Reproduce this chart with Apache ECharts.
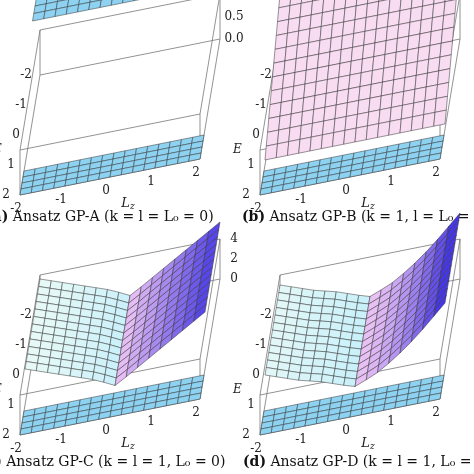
<!DOCTYPE html><html><head><meta charset="utf-8">
<script src="https://cdn.jsdelivr.net/npm/echarts@6/dist/echarts.min.js"></script>
<style>html,body{margin:0;background:#fff}#c{width:474px;height:474px}</style></head><body><div id="c"></div>
<script>
const lzNodes=[-2,-1.75,-1.5,-1.25,-1,-0.75,-0.5,-0.25,0,0.25,0.5,0.75,1,1.25,1.5,1.75,2];
const eNodes=[-2,-1.75,-1.5,-1.25,-1,-0.75,-0.5,-0.25,0,0.25,0.5,0.75,1,1.25,1.5,1.75,2];
const floorE=[1.2,1.4,1.6,1.8,2];
const profA=[1,1,1,1,1,1,1,1,1,1,1,1,1,1,1,1,1];
const profB=[0.9,0.9,0.9,0.9,0.9,0.9,0.9,0.9,0.9,0.9,0.9,0.9,0.9,0.9,0.9,0.9,0.9];
const profC=[3.6,3.2,2.8,2.4,2.0,1.6,1.2,0.7,0.15,0.8,1.5,2.2,2.9,3.6,4.3,5.0,5.7];
const profD=[3.0,2.6,2.2,1.8,1.5,1.2,0.8,0.4,0.05,0.5,1.0,1.7,2.5,3.4,4.4,5.5,6.6];
const zMax=[1,1,4,4];
const zTicks=[["0.0","0.5","1.0"],[],["0","2","4"],[]];
const axisTicks=["-2","-1","0","1","2"];
const capLabels=["(a)","(b)","(c)","(d)"];
const capTexts=[" Ansatz GP-A (k = l = L₀ = 0)"," Ansatz GP-B (k = 1, l = L₀ = 0)"," Ansatz GP-C (k = l = 1, L₀ = 0)"," Ansatz GP-D (k = l = 1, L₀ = 0)"];
const centers=[[120,117],[360,117],[120,357],[360,357]];
const H=[45,45,40,40];
const profs=[profA,profB,profC,profD];
const style=['blue','pink','grad','grad'];

function proj(p,lz,e,z){const [cx,cy]=centers[p];return [cx+45*lz-5*e, cy+30*e-9*lz-H[p]*z/zMax[p]];}
const items=[];
for(let p=0;p<4;p++){
  const bx=[[-2,-2],[2,-2],[2,2],[-2,2]];
  for(let i=0;i<4;i++){const a=bx[i],b=bx[(i+1)%4];
    items.push({k:'line',p,a:[a[0],a[1],0],b:[b[0],b[1],0]});
    items.push({k:'line',p,a:[a[0],a[1],zMax[p]],b:[b[0],b[1],zMax[p]]});
    items.push({k:'line',p,a:[a[0],a[1],0],b:[a[0],a[1],zMax[p]]});}
  for(let i=0;i<lzNodes.length-1;i++)for(let j=0;j<floorE.length-1;j++)
    items.push({k:'cell',p,c:'blue',pts:[[lzNodes[i],floorE[j],0],[lzNodes[i+1],floorE[j],0],[lzNodes[i+1],floorE[j+1],0],[lzNodes[i],floorE[j+1],0]]});
  const pr=profs[p];const eMax=(p===0)?-0.4:1.2;
  for(let j=0;j<eNodes.length-1;j++){if(eNodes[j+1]>eMax+1e-9)break;
    for(let i=0;i<lzNodes.length-1;i++){
      const zf=(k,e)=>p===1?2*pr[k]*(1.2-e)/3.2:(p===0?2.2:pr[k]);
      items.push({k:'cell',p,c:style[p],lz:lzNodes[i],zz:(pr[i]+pr[i+1])/2,
        pts:[[lzNodes[i],eNodes[j],zf(i,eNodes[j])],[lzNodes[i+1],eNodes[j],zf(i+1,eNodes[j])],[lzNodes[i+1],eNodes[j+1],zf(i+1,eNodes[j+1])],[lzNodes[i],eNodes[j+1],zf(i,eNodes[j+1])]]});
    }}
  axisTicks.forEach(t=>{const v=+t;
    items.push({k:'text',p,t,at:[v,2,0],dx:-4,dy:14});
    items.push({k:'text',p,t,at:[-2,v,0],dx:-14,dy:0});});
  items.push({k:'text',p,t:'L',sub:'z',at:[0.4,2,0],dx:0,dy:30,it:true});
  items.push({k:'text',p,t:'E',at:[-2,0.5,0],dx:-30,dy:0,it:true});
  zTicks[p].forEach((t,i)=>items.push({k:'text',p,t,at:[2,-2,zMax[p]*i/(zTicks[p].length-1)],dx:14,dy:0}));
}
function mix(a,b,t){return 'rgb('+a.map((x,i)=>Math.round(x+(b[i]-x)*t)).join(',')+')';}
function fillOf(it){
  if(it.c==='blue')return '#8ed2f2';
  if(it.c==='pink')return '#f8dcf2';
  const f=Math.min(1,it.zz/6);
  return it.lz<0?mix([200,240,250],[255,255,245],f):mix([240,200,245],[70,55,230],f);
}
const chart=echarts.init(document.getElementById('c'));
chart.setOption({
  animation:false,
  grid:{left:0,right:0,top:0,bottom:0},
  xAxis:{type:'value',min:0,max:474,show:false},
  yAxis:{type:'value',min:0,max:474,inverse:true,show:false},
  graphic:capTexts.map((t,i)=>({type:'text',left:[-14,242,-20,243][i],top:[210,210,455,455][i],
    style:{text:'{b|'+capLabels[i]+'}{n|'+t+'}',rich:{b:{font:'bold 14px "DejaVu Serif"',fill:'#111'},n:{font:'14px "DejaVu Serif"',fill:'#111'}}}})),
  series:[{type:'custom',coordinateSystem:'cartesian2d',clip:false,
    data:items.map((d,i)=>[i]),
    renderItem:(params,api)=>{
      const it=items[params.dataIndex];
      const P=q=>api.coord(proj(it.p,q[0],q[1],q[2]));
      if(it.k==='line'){const a=P(it.a),b=P(it.b);
        return {type:'line',shape:{x1:a[0],y1:a[1],x2:b[0],y2:b[1]},style:{stroke:'#777',lineWidth:0.8}};}
      if(it.k==='text'){const a=P(it.at);
        return {type:'text',x:a[0]+it.dx,y:a[1]+it.dy,style:{text:it.sub?'{a|L}{b|z}':it.t,
          rich:{a:{font:'italic 13px "DejaVu Serif"'},b:{font:'italic 9px "DejaVu Serif"',padding:[6,0,0,0]}},
          font:(it.it?'italic ':'')+'12px "DejaVu Serif"',fill:'#222',align:'center',verticalAlign:'middle'}};}
      return {type:'polygon',shape:{points:it.pts.map(P)},style:{fill:fillOf(it),stroke:'#333',lineWidth:0.5}};
    }}]
});
</script></body></html>
